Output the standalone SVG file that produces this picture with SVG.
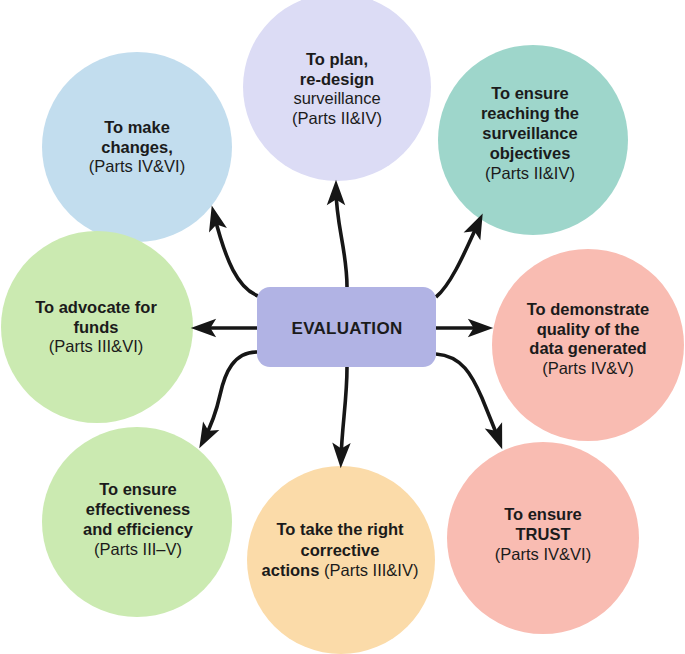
<svg xmlns="http://www.w3.org/2000/svg" width="685" height="654" viewBox="0 0 685 654">
<style>
text{font-family:"Liberation Sans",Arial,sans-serif;font-size:16.5px;fill:#1b1b1b;text-anchor:middle}
.b{font-weight:700}
.conn path{fill:none;stroke:#161616;stroke-width:3.6;marker-end:url(#ah)}
</style>
<defs>
<marker id="ah" markerUnits="userSpaceOnUse" markerWidth="30" markerHeight="30" viewBox="-2 -10 26 20" refX="14" refY="0" orient="auto">
<path d="M22,0 L0,-8 L5,0 L0,8 Z" fill="#161616"/>
</marker>
</defs>
<rect width="685" height="654" fill="#fff"/>
<g id="n-plan"><circle cx="337" cy="87" r="94" fill="#dcdcf5"/>
<text x="337" y="65"><tspan class="b">To plan,</tspan><tspan class="b" x="337" dy="19.5">re-design</tspan><tspan x="337" dy="19.5">surveillance</tspan><tspan x="337" dy="19.5">(Parts II&amp;IV)</tspan></text></g>
<g id="n-objectives"><circle cx="533" cy="140" r="95" fill="#9ed6cb"/>
<text x="530" y="99"><tspan class="b">To ensure</tspan><tspan class="b" x="530" dy="20">reaching the</tspan><tspan class="b" x="530" dy="20">surveillance</tspan><tspan class="b" x="530" dy="20">objectives</tspan><tspan x="530" dy="20">(Parts II&amp;IV)</tspan></text></g>
<g id="n-changes"><circle cx="137" cy="147" r="95" fill="#c2ddee"/>
<text x="137" y="133"><tspan class="b">To make</tspan><tspan class="b" x="137" dy="19.5">changes,</tspan><tspan x="137" dy="19.5">(Parts IV&amp;VI)</tspan></text></g>
<g id="n-funds"><circle cx="97" cy="327" r="96" fill="#cbeab1"/>
<text x="96" y="313"><tspan class="b">To advocate for</tspan><tspan class="b" x="96" dy="19.5">funds</tspan><tspan x="96" dy="19.5">(Parts III&amp;VI)</tspan></text></g>
<g id="n-quality"><circle cx="588" cy="345" r="96" fill="#f9bcb2"/>
<text x="588" y="315"><tspan class="b">To demonstrate</tspan><tspan class="b" x="588" dy="19.5">quality of the</tspan><tspan class="b" x="588" dy="19.5">data generated</tspan><tspan x="588" dy="19.5">(Parts IV&amp;V)</tspan></text></g>
<g id="n-effectiveness"><circle cx="137" cy="522" r="95" fill="#cbeab1"/>
<text x="138" y="495"><tspan class="b">To ensure</tspan><tspan class="b" x="138" dy="20">effectiveness</tspan><tspan class="b" x="138" dy="20">and efficiency</tspan><tspan x="138" dy="20">(Parts III–V)</tspan></text></g>
<g id="n-corrective"><circle cx="341" cy="560" r="94" fill="#fbdba9"/>
<text x="340" y="535"><tspan class="b">To take the right</tspan><tspan class="b" x="340" dy="20.5">corrective</tspan><tspan x="340" dy="20.5"><tspan class="b">actions</tspan> (Parts III&amp;IV)</tspan></text></g>
<g id="n-trust"><circle cx="543" cy="538" r="96" fill="#f9bcb2"/>
<text x="543" y="520"><tspan class="b">To ensure</tspan><tspan class="b" x="543" dy="20">TRUST</tspan><tspan x="543" dy="20">(Parts IV&amp;VI)</tspan></text></g>
<g id="connectors" class="conn">
<path d="M347,287 C347,250 336,225 336,189"/>
<path d="M258,296 C238,288 226,262 214,214.5"/>
<path d="M436,297 C452,284 468,245 478.8,221.8"/>
<path d="M257,328 L200,328"/>
<path d="M436,328 L484,328"/>
<path d="M257,352 C234,352 225,372 220,395 C216,413 210,428 203.6,440"/>
<path d="M347,367 C347,400 342,425 341,459"/>
<path d="M436,354 C462,356 472,375 482,398 C488,413 494,427 499,440.6"/>
</g>
<g id="n-evaluation"><rect x="257" y="287" width="179" height="80" rx="13" fill="#b1b3e4"/>
<text x="347" y="334" class="b" style="font-size:17px;letter-spacing:0.3px">EVALUATION</text></g>
</svg>
